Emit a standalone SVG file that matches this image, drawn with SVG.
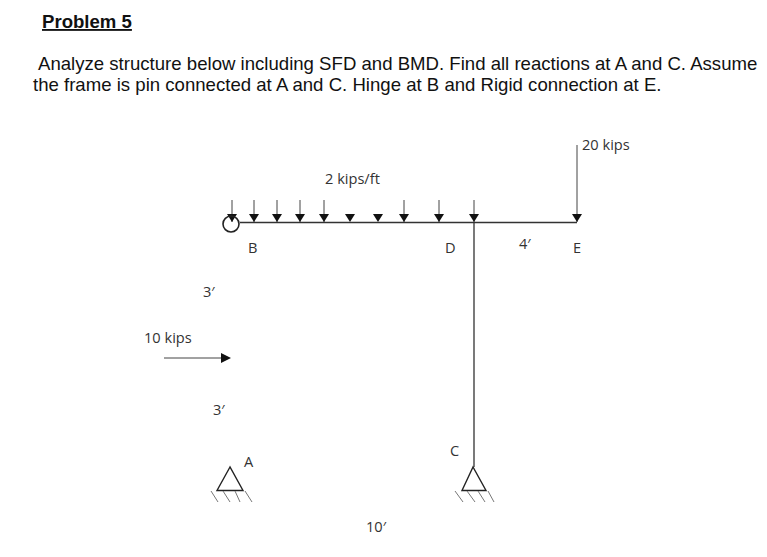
<svg xmlns="http://www.w3.org/2000/svg" width="767" height="557" viewBox="0 0 767 557">
<style>
.h{font-family:"Liberation Sans",Arial,sans-serif;font-size:18.6px;fill:#111}
.l{font-family:"Open Sans","Noto Sans",sans-serif;font-size:14.6px;fill:#333}
.b{fill:none;stroke:#333;stroke-width:1.3}
.a{fill:none;stroke:#444;stroke-width:1}
.s{fill:none;stroke:#222;stroke-width:1.4}
.t{fill:none;stroke:#777;stroke-width:1}
</style>
<defs>
<polygon id="hd" points="-5,-8 5,-8 0,0" fill="#111"/>
</defs>
<rect width="767" height="557" fill="#fff"/>
<g id="title">
<text class="h" x="42" y="28" font-weight="bold" text-decoration="underline">Problem 5</text>
<text class="h" x="38" y="70">Analyze structure below including SFD and BMD. Find all reactions at A and C. Assume</text>
<text class="h" x="33" y="91">the frame is pin connected at A and C. Hinge at B and Rigid connection at E.</text>
</g>
<g id="connectors">
<path class="b" d="M240 222.5H577M474 222.5V467"/>
<path class="a" d="M232 200V222M254 200V222M277 200V222M300 200V222M324 200V222M404 200V222M439 200V222M474 200V222M577 145V222M164 358H224"/>
<use href="#hd" x="232" y="222"/><use href="#hd" x="254" y="222"/><use href="#hd" x="277" y="222"/><use href="#hd" x="300" y="222"/><use href="#hd" x="324" y="222"/><use href="#hd" x="350" y="222"/><use href="#hd" x="378" y="222"/><use href="#hd" x="404" y="222"/><use href="#hd" x="439" y="222"/><use href="#hd" x="474" y="222"/><use href="#hd" x="577" y="222"/>
<polygon points="221,353 231,358 221,363" fill="#111"/>
</g>
<g id="hinge-B"><circle cx="231" cy="224" r="8" fill="none" stroke="#222" stroke-width="1.6"/></g>
<g id="support-A">
<path class="s" d="M230 467L217 490.5H243Z"/>
<path class="t" d="M211 491L218 502M223 491L230 502M235 491L240 502M245 491L252 502"/>
</g>
<g id="support-C">
<path class="s" d="M473 467L462 490.5H486Z"/>
<path class="t" d="M455 491L463 502M467 491L475 502M478 491L485 502M488 491L494 502"/>
</g>
<g id="labels">
<text class="l" x="325" y="184">2 kips/ft</text>
<text class="l" x="582" y="150">20 kips</text>
<text class="l" x="248" y="253">B</text>
<text class="l" x="445" y="253">D</text>
<text class="l" x="519" y="249">4′</text>
<text class="l" x="573" y="253">E</text>
<text class="l" x="203" y="297">3′</text>
<text class="l" x="144" y="343">10 kips</text>
<text class="l" x="213" y="415">3′</text>
<text class="l" x="244" y="467">A</text>
<text class="l" x="450" y="456">C</text>
<text class="l" x="366" y="532">10′</text>
</g>
</svg>
